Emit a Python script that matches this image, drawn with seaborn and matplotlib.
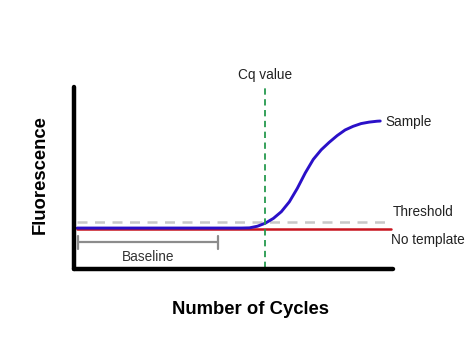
import matplotlib
matplotlib.use("Agg")
import matplotlib.pyplot as plt
import seaborn as sns
import pandas as pd

cycles = [0.4, 5, 10, 15, 20, 21, 22, 23, 24, 25, 26, 27, 28, 29, 30, 31, 32, 33, 34, 35, 36, 37, 38, 38.4]
sample = [22.5, 22.5, 22.5, 22.5, 22.5, 22.5, 22.6, 23.5, 25.2, 27.8, 31.5, 36.9, 44.3, 52.8, 60.2, 65.5, 69.6, 73.3, 76.4, 78.4, 79.9, 80.7, 81.2, 81.3]
no_template_x = [0.4, 39.8]
no_template_y = [22.0, 22.0]
threshold_x = [0.4, 39.6]
threshold_y = [25.8, 25.8]
cq = 23.9
baseline_range = [0.5, 18.1]
labels = {"Sample": (39.1, 81.0), "Threshold": (39.96, 31.2), "No template": (39.7, 15.9)}

sns.set_theme(style="white")
plt.rcParams['font.family'] = ['Liberation Sans', 'DejaVu Sans']

fig = plt.figure(figsize=(4.74, 3.47), dpi=100)
ax = fig.add_axes([74/474, 1-269/347, (393-74)/474, (269-87)/347])
ax.set_xlim(0, 40)
ax.set_ylim(0, 100)

df_s = pd.DataFrame({"cycle": cycles, "fluor": sample})
df_n = pd.DataFrame({"cycle": no_template_x, "fluor": no_template_y})
df_t = pd.DataFrame({"cycle": threshold_x, "fluor": threshold_y})

sns.lineplot(data=df_t, x="cycle", y="fluor", ax=ax, color="#c8c8c8", lw=1.8, linestyle=(0, (4, 3)))
sns.lineplot(data=df_n, x="cycle", y="fluor", ax=ax, color="#c8141e", lw=1.8)
sns.lineplot(data=df_s, x="cycle", y="fluor", ax=ax, color="#2a10c8", lw=2.1, sort=False)
ax.lines[-1].set_solid_joinstyle("round")

ax.plot([cq, cq], [0.5, 100], color="#259a4e", lw=1.3, linestyle=(0, (3.5, 2.5)))

# baseline bracket
by = 14.8
ax.plot(baseline_range, [by, by], color="#8c8c8c", lw=1.6)
for bx in baseline_range:
    ax.plot([bx, bx], [11.0, 18.1], color="#8c8c8c", lw=1.6)
ax.text(sum(baseline_range)/2, 6.6, "Baseline", ha="center", va="center", fontsize=9.8, color="#333333")

ax.text(cq, 106.6, "Cq value", ha="center", va="center", fontsize=9.8, color="#222222", clip_on=False)
for name, (lx, ly) in labels.items():
    ax.text(lx, ly, name, ha="left", va="center", fontsize=9.8, color="#222222", clip_on=False)

ax.set_xticks([])
ax.set_yticks([])
ax.set_xlabel("")
ax.set_ylabel("")
for s in ["top", "right"]:
    ax.spines[s].set_visible(False)
for s in ["left", "bottom"]:
    ax.spines[s].set_linewidth(3.2)
    ax.spines[s].set_color("black")
    ax.spines[s].set_capstyle("round")

fig.text(251/474, 1-310/347, "Number of Cycles", ha="center", va="center", fontsize=13.3, fontweight="bold", color="black")
fig.text(40/474, 1-175/347, "Fluorescence", ha="center", va="center", rotation=90, fontsize=13.3, fontweight="bold", color="black")

fig.savefig("out.png", dpi=100, facecolor="white")
